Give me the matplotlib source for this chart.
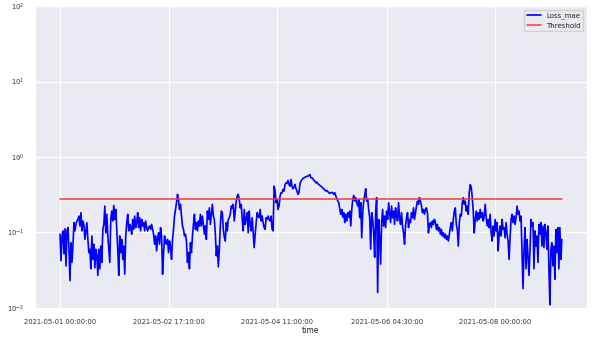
import numpy as np
import matplotlib
matplotlib.use("Agg")
import matplotlib.pyplot as plt
import seaborn as sns

# ---- data ----
time_labels = ["2021-05-01 00:00:00", "2021-05-02 17:10:00", "2021-05-04 11:00:00",
               "2021-05-06 04:30:00", "2021-05-08 00:00:00"]
label_index = [0, 109, 218, 328, 437]   # sample index at which each label sits

loss_part1 = [0.095, 0.042, 0.090, 0.105, 0.052, 0.112, 0.036, 0.105, 0.116, 0.060,
              0.023, 0.073, 0.040, 0.066, 0.135, 0.105, 0.128, 0.142, 0.149, 0.165,
              0.122, 0.183, 0.105, 0.142, 0.128, 0.081, 0.105, 0.135, 0.081, 0.054,
              0.060, 0.033, 0.090, 0.044, 0.070, 0.034, 0.060, 0.049, 0.027, 0.060,
              0.033, 0.066, 0.040, 0.110, 0.128, 0.224, 0.099, 0.174, 0.090, 0.060,
              0.040, 0.149, 0.192, 0.142, 0.228, 0.149, 0.202, 0.110, 0.060, 0.027,
              0.090, 0.054, 0.081, 0.044, 0.066, 0.028, 0.090, 0.135, 0.174, 0.105,
              0.128, 0.116, 0.095, 0.149, 0.110, 0.165, 0.116, 0.135, 0.183, 0.116,
              0.157, 0.105, 0.149, 0.122, 0.135, 0.105, 0.142, 0.116, 0.105, 0.116,
              0.122, 0.110, 0.128, 0.110, 0.095, 0.070, 0.090, 0.057, 0.081, 0.099,
              0.070]
loss_part2 = [0.116, 0.090, 0.028, 0.054, 0.090, 0.073, 0.070, 0.081, 0.054, 0.077,
              0.063, 0.044, 0.081, 0.110, 0.165, 0.202, 0.248, 0.320, 0.274, 0.202,
              0.236, 0.165, 0.122, 0.110, 0.090, 0.095, 0.077, 0.040, 0.054, 0.033,
              0.073, 0.054, 0.090, 0.128, 0.174, 0.110, 0.135, 0.105, 0.142, 0.122,
              0.174, 0.122, 0.165, 0.128, 0.095, 0.122, 0.081, 0.192, 0.149, 0.212,
              0.128, 0.174, 0.236, 0.165, 0.149, 0.095, 0.049, 0.066, 0.035, 0.060,
              0.122, 0.192, 0.183, 0.110, 0.086, 0.077, 0.135, 0.105, 0.149, 0.157,
              0.174, 0.224, 0.212, 0.236, 0.142, 0.192, 0.261, 0.303, 0.320, 0.274,
              0.212, 0.236, 0.149, 0.105, 0.202, 0.128, 0.149, 0.183, 0.099, 0.192,
              0.128, 0.105, 0.157, 0.099, 0.063, 0.095, 0.135, 0.183, 0.165, 0.157]
loss_part3 = [0.202, 0.142, 0.165, 0.135, 0.116, 0.110, 0.157, 0.149, 0.165, 0.149,
              0.142, 0.165, 0.110, 0.105, 0.411, 0.354, 0.248, 0.274, 0.202, 0.224,
              0.303, 0.336, 0.336, 0.372, 0.354, 0.433, 0.455, 0.446, 0.490, 0.433,
              0.411, 0.503, 0.411, 0.380, 0.400, 0.433, 0.380, 0.354, 0.320, 0.336,
              0.446, 0.478, 0.503, 0.520, 0.530, 0.540, 0.545, 0.557, 0.557, 0.570,
              0.586, 0.530, 0.530, 0.515, 0.490, 0.478, 0.455, 0.465, 0.440, 0.433,
              0.420, 0.411, 0.400, 0.385, 0.380, 0.365, 0.354, 0.360, 0.347, 0.336,
              0.330, 0.336, 0.340, 0.336, 0.320, 0.336, 0.303, 0.280, 0.261, 0.248,
              0.202, 0.174, 0.202, 0.160, 0.183, 0.135, 0.174, 0.142, 0.183, 0.160,
              0.192, 0.122, 0.202, 0.274, 0.310, 0.261, 0.290, 0.248, 0.224, 0.274]
loss_part4 = [0.157, 0.248, 0.085, 0.183, 0.260, 0.310, 0.380, 0.260, 0.274, 0.202,
              0.157, 0.060, 0.183, 0.149, 0.099, 0.047, 0.183, 0.290, 0.016, 0.149,
              0.090, 0.038, 0.135, 0.202, 0.122, 0.165, 0.116, 0.192, 0.149, 0.248,
              0.183, 0.135, 0.224, 0.157, 0.192, 0.128, 0.212, 0.165, 0.142, 0.248,
              0.157, 0.128, 0.183, 0.122, 0.099, 0.070, 0.122, 0.157, 0.183, 0.116,
              0.149, 0.135, 0.183, 0.157, 0.212, 0.149, 0.183, 0.224, 0.260, 0.236,
              0.290, 0.260, 0.224, 0.183, 0.202, 0.174, 0.202, 0.212, 0.183, 0.099,
              0.128, 0.135, 0.116, 0.142, 0.128, 0.149, 0.135, 0.110, 0.128, 0.105,
              0.116, 0.095, 0.110, 0.090, 0.099, 0.085, 0.095, 0.081, 0.090, 0.077,
              0.095, 0.116, 0.135, 0.105, 0.149, 0.192, 0.212, 0.128, 0.110, 0.066]
loss_part5 = [0.135, 0.174, 0.165, 0.248, 0.290, 0.236, 0.260, 0.192, 0.224, 0.174,
              0.340, 0.430, 0.400, 0.290, 0.192, 0.099, 0.149, 0.192, 0.142, 0.183,
              0.149, 0.202, 0.157, 0.183, 0.142, 0.165, 0.236, 0.157, 0.122, 0.149,
              0.116, 0.174, 0.099, 0.077, 0.122, 0.090, 0.149, 0.105, 0.135, 0.057,
              0.095, 0.122, 0.090, 0.149, 0.110, 0.116, 0.085, 0.135, 0.095, 0.077,
              0.044, 0.085, 0.149, 0.174, 0.135, 0.165, 0.128, 0.157, 0.224, 0.174,
              0.192, 0.142, 0.165, 0.057, 0.018, 0.060, 0.116, 0.033, 0.081, 0.049,
              0.027, 0.057, 0.149, 0.122, 0.135, 0.033, 0.105, 0.066, 0.090, 0.040,
              0.128, 0.095, 0.135, 0.066, 0.122, 0.063, 0.128, 0.099, 0.060, 0.122,
              0.033, 0.011, 0.060, 0.073, 0.036, 0.066, 0.024, 0.110, 0.054, 0.116,
              0.033, 0.116, 0.044, 0.081]
threshold = 0.28

loss_mae = np.array(loss_part1 + loss_part2 + loss_part3 + loss_part4 + loss_part5)

# ---- plot ----
sns.set_style("darkgrid")
plt.rcParams['font.family'] = ['DejaVu Sans']

fig = plt.figure(figsize=(6.02, 3.41), dpi=100)
ax = fig.add_axes([0.058, 0.097, 0.917, 0.885])

idx = np.arange(len(loss_mae))
ax.plot(idx, loss_mae, color='blue', lw=1.2, label='Loss_mae')
ax.plot(idx, np.full(len(idx), threshold), color='#f03c3c', lw=1.1, label='Threshold')

ax.set_yscale('log')
ax.set_ylim(1e-2, 1e2)
ax.set_xticks(label_index)
ax.set_xticklabels(time_labels)
ax.tick_params(axis='both', labelsize=4.9, colors='#333333', pad=4.5)
ax.set_xlabel('time', fontsize=5.5, labelpad=1, color='#222222')
leg = ax.legend(loc='upper right', fontsize=5, frameon=True)

fig.savefig('out.png', dpi=100)
